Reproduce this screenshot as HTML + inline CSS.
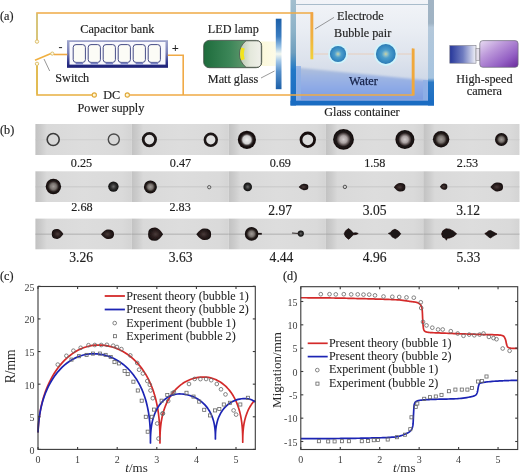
<!DOCTYPE html>
<html><head><meta charset="utf-8"><title>Bubble pair figure</title>
<style>html,body{margin:0;padding:0;background:#fff;width:520px;height:475px;overflow:hidden}svg{display:block}</style>
</head><body>
<svg width="520" height="475" viewBox="0 0 520 475">

<defs>
 <filter id="fB" x="-0.3" y="-0.3" width="1.6" height="1.6"><feGaussianBlur stdDeviation="0.45"/></filter>
 <filter id="fB2" x="-0.3" y="-0.3" width="1.6" height="1.6"><feGaussianBlur stdDeviation="0.35"/></filter>
 <filter id="fSoft" x="-0.05" y="-0.2" width="1.1" height="1.4"><feGaussianBlur stdDeviation="1.2"/></filter>
 <linearGradient id="gAir" x1="0" y1="0" x2="0" y2="1">
  <stop offset="0" stop-color="#f2f4f8"/><stop offset="0.3" stop-color="#e9edf3"/><stop offset="0.6" stop-color="#dce2ec"/><stop offset="0.8" stop-color="#cfd8e8"/><stop offset="1" stop-color="#c0cce4"/>
 </linearGradient>
 <linearGradient id="gWater" x1="0" y1="0" x2="0" y2="1">
  <stop offset="0" stop-color="#b0c0dc"/><stop offset="0.25" stop-color="#a0b6e2"/><stop offset="0.6" stop-color="#8eaae6"/><stop offset="1" stop-color="#7c9ce0"/>
 </linearGradient>
 <linearGradient id="gWallL" x1="0" y1="0" x2="0" y2="1">
  <stop offset="0" stop-color="#a2bece"/><stop offset="0.3" stop-color="#8cb2c8"/><stop offset="0.5" stop-color="#6e9ebe"/><stop offset="0.6" stop-color="#3c86c2"/><stop offset="0.66" stop-color="#2278c6"/><stop offset="1" stop-color="#1a6cc2"/>
 </linearGradient>
 <linearGradient id="gWallR" x1="0" y1="0" x2="0" y2="1">
  <stop offset="0" stop-color="#a2b4c4"/><stop offset="0.22" stop-color="#9fb3c4"/><stop offset="0.26" stop-color="#b4c8da"/><stop offset="0.74" stop-color="#a6c4e0"/><stop offset="0.78" stop-color="#2a78c4"/><stop offset="1" stop-color="#1a6cc2"/>
 </linearGradient>
 <linearGradient id="gMatt" x1="0" y1="0" x2="0" y2="1">
  <stop offset="0" stop-color="#1b5fa8"/><stop offset="0.25" stop-color="#3a7cc0"/><stop offset="0.4" stop-color="#98c2e6"/><stop offset="0.5" stop-color="#f4f8f0"/><stop offset="0.6" stop-color="#a4c8e8"/><stop offset="0.75" stop-color="#5690ca"/><stop offset="1" stop-color="#1b5fa8"/>
 </linearGradient>
 <linearGradient id="gCapB" x1="0" y1="0" x2="0" y2="1">
  <stop offset="0" stop-color="#a0a6cc"/><stop offset="0.45" stop-color="#7a80b8"/><stop offset="0.8" stop-color="#30368c"/><stop offset="1" stop-color="#1a1e74"/>
 </linearGradient>
 <linearGradient id="gElec" x1="0" y1="0" x2="0" y2="1">
  <stop offset="0" stop-color="#f0a444"/><stop offset="0.5" stop-color="#f0b040"/><stop offset="1" stop-color="#f2d238"/>
 </linearGradient>
 <linearGradient id="gLed" x1="0" y1="0" x2="1" y2="0">
  <stop offset="0" stop-color="#1e6c3c"/><stop offset="0.45" stop-color="#3c8658"/><stop offset="0.8" stop-color="#6c9c74"/><stop offset="1" stop-color="#90b090"/>
 </linearGradient>
 <linearGradient id="gCap" x1="0" y1="0" x2="1" y2="0">
  <stop offset="0" stop-color="#b8c8b0"/><stop offset="0.5" stop-color="#e4e8dc"/><stop offset="1" stop-color="#f0f0ea"/>
 </linearGradient>
 <linearGradient id="gBeam" x1="0" y1="0" x2="1" y2="0">
  <stop offset="0" stop-color="#fbf8d8"/><stop offset="1" stop-color="#fdfbe8"/>
 </linearGradient>
 <linearGradient id="gLens" x1="0" y1="0" x2="1" y2="0">
  <stop offset="0" stop-color="#26379a"/><stop offset="0.5" stop-color="#6f7cc0"/><stop offset="1" stop-color="#f2f2f8"/>
 </linearGradient>
 <linearGradient id="gBody" x1="0" y1="0" x2="1" y2="1">
  <stop offset="0" stop-color="#e8dcf2"/><stop offset="0.35" stop-color="#bc98da"/><stop offset="0.7" stop-color="#9460c4"/><stop offset="1" stop-color="#6a2a9c"/>
 </linearGradient>
 <radialGradient id="gBub" cx="0.5" cy="0.5" r="0.5">
  <stop offset="0" stop-color="#d2d296"/><stop offset="0.16" stop-color="#94c2c6"/><stop offset="0.42" stop-color="#4c9ecc"/><stop offset="0.82" stop-color="#3488c0"/><stop offset="1" stop-color="#2c7ab2"/>
 </radialGradient>
 <linearGradient id="gPhoto" x1="0" y1="0" x2="1" y2="0">
  <stop offset="0" stop-color="#c2c2c2"/><stop offset="0.06" stop-color="#cccccc"/><stop offset="0.12" stop-color="#d9d9d9"/><stop offset="0.5" stop-color="#dddddd"/><stop offset="0.9" stop-color="#dadada"/><stop offset="1" stop-color="#d4d4d4"/>
 </linearGradient>
 <radialGradient id="gSph" cx="0.5" cy="0.5" r="0.5">
  <stop offset="0" stop-color="#a09a96"/><stop offset="0.4" stop-color="#78726e"/><stop offset="0.7" stop-color="#241c1a"/><stop offset="1" stop-color="#100a0a"/>
 </radialGradient>
 <radialGradient id="gSphL" cx="0.5" cy="0.5" r="0.5">
  <stop offset="0" stop-color="#eeeeee"/><stop offset="0.45" stop-color="#d0d0d0"/><stop offset="0.62" stop-color="#403838"/><stop offset="0.75" stop-color="#1a1212"/><stop offset="1" stop-color="#140e0e"/>
 </radialGradient>
 <radialGradient id="gBlob" cx="0.5" cy="0.5" r="0.5">
  <stop offset="0" stop-color="#4a3c3a"/><stop offset="0.5" stop-color="#2c2020"/><stop offset="1" stop-color="#160e0e"/>
 </radialGradient>
 <radialGradient id="gSphM" cx="0.5" cy="0.5" r="0.5">
  <stop offset="0" stop-color="#d2cccc"/><stop offset="0.35" stop-color="#aaa2a2"/><stop offset="0.55" stop-color="#5a5050"/><stop offset="0.7" stop-color="#1e1616"/><stop offset="1" stop-color="#140e0e"/>
 </radialGradient>
 <radialGradient id="gSphD" cx="0.5" cy="0.5" r="0.5">
  <stop offset="0" stop-color="#6a6a6a"/><stop offset="0.5" stop-color="#303030"/><stop offset="1" stop-color="#0e0e0e"/>
 </radialGradient>
</defs>

<rect x="0" y="0" width="520" height="475" fill="#ffffff"/>
<rect x="296" y="0" width="132" height="101" fill="url(#gAir)"/>
<polygon points="296,67.4 428,80.4 428,101 296,101" fill="url(#gWater)" filter="url(#fSoft)"/>
<rect x="296" y="66" width="5" height="35" fill="#8fb0e6" opacity="0.8"/>
<rect x="423" y="80" width="5" height="21" fill="#8fb0e6" opacity="0.8"/>
<line x1="296" y1="4.5" x2="428" y2="4.5" stroke="#a9bccb" stroke-width="1"/>
<rect x="290.5" y="0" width="5.5" height="105.5" fill="url(#gWallL)"/>
<rect x="428" y="0" width="6" height="105.5" fill="url(#gWallR)"/>
<rect x="290.5" y="100.7" width="143.5" height="4.8" fill="#1a6cc2"/>
<rect x="258" y="41.5" width="18" height="24.5" fill="url(#gBeam)"/>
<rect x="203.7" y="40.4" width="58" height="27.3" rx="5.5" fill="url(#gLed)" stroke="#3c4a40" stroke-width="0.8"/>
<path d="M246,40.8 L256.5,40.8 Q261.3,40.8 261.3,45.5 L261.3,62.6 Q261.3,67.3 256.5,67.3 L246,67.3 Q239.5,62 239.5,54 Q239.5,46 246,40.8 Z" fill="url(#gCap)" stroke="#4a5048" stroke-width="0.8"/>
<path d="M241,47.6 Q239.2,54 241,60.2 L244.6,59.2 Q243,54 244.6,48.6 Z" fill="#f2e41c"/>
<rect x="275.8" y="18.7" width="5.7" height="70.5" fill="url(#gMatt)"/>
<line x1="261" y1="78" x2="274.5" y2="71" stroke="#707070" stroke-width="0.7"/>
<rect x="67" y="40.2" width="101" height="27.6" fill="url(#gCapB)"/>
<rect x="69.5" y="42" width="96" height="22.6" fill="#f8f8fd"/>
<rect x="73.2" y="44.6" width="12.2" height="17.8" rx="2.8" fill="#fcfcf6" stroke="#3c4280" stroke-width="0.95"/>
<rect x="75.6" y="62.6" width="7.5" height="1.8" fill="#7c84c8"/>
<rect x="88.2" y="44.6" width="12.2" height="17.8" rx="2.8" fill="#fcfcf6" stroke="#3c4280" stroke-width="0.95"/>
<rect x="90.6" y="62.6" width="7.5" height="1.8" fill="#7c84c8"/>
<rect x="103.2" y="44.6" width="12.2" height="17.8" rx="2.8" fill="#fcfcf6" stroke="#3c4280" stroke-width="0.95"/>
<rect x="105.6" y="62.6" width="7.5" height="1.8" fill="#7c84c8"/>
<rect x="118.2" y="44.6" width="12.2" height="17.8" rx="2.8" fill="#fcfcf6" stroke="#3c4280" stroke-width="0.95"/>
<rect x="120.6" y="62.6" width="7.5" height="1.8" fill="#7c84c8"/>
<rect x="133.2" y="44.6" width="12.2" height="17.8" rx="2.8" fill="#fcfcf6" stroke="#3c4280" stroke-width="0.95"/>
<rect x="135.6" y="62.6" width="7.5" height="1.8" fill="#7c84c8"/>
<rect x="148.2" y="44.6" width="12.2" height="17.8" rx="2.8" fill="#fcfcf6" stroke="#3c4280" stroke-width="0.95"/>
<rect x="150.6" y="62.6" width="7.5" height="1.8" fill="#7c84c8"/>
<polyline points="37,40 37,13 313,13" stroke="#f0aa46" stroke-width="1.6" fill="none"/>
<line x1="37" y1="13.5" x2="37" y2="39.3" stroke="#d6c67c" stroke-width="1.9"/>
<polyline points="37,65.5 37,95 92.6,95" stroke="#e8b040" stroke-width="1.6" fill="none"/>
<line x1="37" y1="66" x2="37" y2="94" stroke="#e0bc50" stroke-width="1.6"/>
<polyline points="129.4,95 412.5,95 412.5,48.5" stroke="#f0aa46" stroke-width="1.6" fill="none"/>
<polyline points="167.8,55.2 183.2,55.2 183.2,95" stroke="#f0aa46" stroke-width="1.6" fill="none"/>
<line x1="54" y1="54.5" x2="67.3" y2="54.5" stroke="#f0aa46" stroke-width="1.6" fill="none"/>
<line x1="35" y1="60.3" x2="51" y2="53.6" stroke="#f0b040" stroke-width="1.6"/>
<circle cx="37" cy="41.6" r="1.7" fill="#fffbe8" stroke="#d8b860" stroke-width="0.9"/>
<circle cx="37" cy="63.8" r="1.7" fill="#fffbe8" stroke="#d8b860" stroke-width="0.9"/>
<circle cx="52.3" cy="53.6" r="1.6" fill="#fffbe8" stroke="#d8b860" stroke-width="0.9"/>
<circle cx="94.3" cy="95" r="2.1" fill="#fff8d8" stroke="#e0a838" stroke-width="1.1"/>
<circle cx="127.3" cy="95" r="2.1" fill="#fff8d8" stroke="#e0a838" stroke-width="1.1"/>
<line x1="44" y1="59" x2="49.7" y2="71" stroke="#6a6a6a" stroke-width="0.7"/>
<rect x="310.4" y="12.3" width="2.9" height="47" fill="url(#gElec)"/>
<line x1="413.3" y1="48.6" x2="413.3" y2="95.5" stroke="#f0a83c" stroke-width="2.6"/>
<line x1="313.5" y1="54" x2="412" y2="54" stroke="#e8c8b0" stroke-width="0.8"/>
<line x1="315" y1="29" x2="334" y2="17.4" stroke="#707070" stroke-width="0.7"/>
<circle cx="338" cy="54" r="8.7" fill="none" stroke="#d0f4fc" stroke-width="2.3"/>
<circle cx="338" cy="54" r="8.1" fill="url(#gBub)"/>
<circle cx="385.8" cy="54" r="10.5" fill="none" stroke="#d0f4fc" stroke-width="2.3"/>
<circle cx="385.8" cy="54" r="9.9" fill="url(#gBub)"/>
<rect x="449.8" y="45.6" width="26.2" height="17.6" fill="url(#gLens)" stroke="#7a7a88" stroke-width="0.6"/>
<rect x="476" y="48.5" width="3.8" height="12" fill="#e6e0ec" stroke="#8a8a90" stroke-width="0.6"/>
<rect x="479.8" y="40.6" width="38.3" height="26.7" rx="3" fill="url(#gBody)" stroke="#6e6e78" stroke-width="0.7"/>
<text x="0" y="19.6" fill="#1e1e1e" stroke="#1e1e1e" stroke-width="0.16" font-size="12.2" font-family="Liberation Serif, serif">(a)</text>
<text x="80.3" y="33.4" fill="#1e1e1e" stroke="#1e1e1e" stroke-width="0.16" font-size="12.2" font-family="Liberation Serif, serif">Capacitor bank</text>
<text x="55.3" y="82.3" fill="#1e1e1e" stroke="#1e1e1e" stroke-width="0.16" font-size="12.2" font-family="Liberation Serif, serif">Switch</text>
<text x="103.3" y="99" fill="#1e1e1e" stroke="#1e1e1e" stroke-width="0.16" font-size="12.2" font-family="Liberation Serif, serif">DC</text>
<text x="77.6" y="111.6" fill="#1e1e1e" stroke="#1e1e1e" stroke-width="0.16" font-size="12.2" font-family="Liberation Serif, serif">Power supply</text>
<text x="207.8" y="33" fill="#1e1e1e" stroke="#1e1e1e" stroke-width="0.16" font-size="12.2" font-family="Liberation Serif, serif">LED lamp</text>
<text x="207.8" y="83" fill="#1e1e1e" stroke="#1e1e1e" stroke-width="0.16" font-size="12.2" font-family="Liberation Serif, serif">Matt glass</text>
<text x="337" y="20.2" fill="#1e1e1e" stroke="#1e1e1e" stroke-width="0.16" font-size="12.2" font-family="Liberation Serif, serif">Electrode</text>
<text x="334" y="36.8" fill="#1e1e1e" stroke="#1e1e1e" stroke-width="0.16" font-size="12.2" font-family="Liberation Serif, serif">Bubble pair</text>
<text x="349" y="85.2" fill="#16224a" stroke="#16224a" stroke-width="0.25" font-size="12.2" font-family="Liberation Serif, serif">Water</text>
<text x="324.2" y="116.2" fill="#1e1e1e" stroke="#1e1e1e" stroke-width="0.16" font-size="12.2" font-family="Liberation Serif, serif">Glass container</text>
<text x="456.3" y="82.5" fill="#1e1e1e" stroke="#1e1e1e" stroke-width="0.16" font-size="12.2" font-family="Liberation Serif, serif">High-speed</text>
<text x="466.8" y="94.8" fill="#1e1e1e" stroke="#1e1e1e" stroke-width="0.16" font-size="12.2" font-family="Liberation Serif, serif">camera</text>
<text x="58.6" y="50.5" font-size="12" font-weight="bold" fill="#333" font-family="Liberation Serif, serif">-</text>
<text x="171.8" y="52" font-size="12.5" font-weight="bold" fill="#222" font-family="Liberation Serif, serif">+</text>
<text x="0" y="134.4" fill="#1e1e1e" stroke="#1e1e1e" stroke-width="0.16" font-size="12.2" font-family="Liberation Serif, serif">(b)</text>
<rect x="35.4" y="124" width="96.2" height="31" fill="url(#gPhoto)"/>
<line x1="35.4" y1="139.7" x2="131.6" y2="139.7" stroke="#c8c8c8" stroke-width="0.6"/>
<rect x="131.6" y="124" width="97.1" height="31" fill="url(#gPhoto)"/>
<line x1="131.6" y1="139.7" x2="228.7" y2="139.7" stroke="#c8c8c8" stroke-width="0.6"/>
<rect x="228.7" y="124" width="97.2" height="31" fill="url(#gPhoto)"/>
<line x1="228.7" y1="139.7" x2="325.9" y2="139.7" stroke="#c8c8c8" stroke-width="0.6"/>
<rect x="325.9" y="124" width="97.4" height="31" fill="url(#gPhoto)"/>
<line x1="325.9" y1="139.7" x2="423.3" y2="139.7" stroke="#c8c8c8" stroke-width="0.6"/>
<rect x="423.3" y="124" width="96.2" height="31" fill="url(#gPhoto)"/>
<line x1="423.3" y1="139.7" x2="519.5" y2="139.7" stroke="#c8c8c8" stroke-width="0.6"/>
<rect x="35.4" y="171.3" width="96.2" height="30.7" fill="url(#gPhoto)"/>
<line x1="35.4" y1="186.85" x2="131.6" y2="186.85" stroke="#bababa" stroke-width="0.6"/>
<rect x="131.6" y="171.3" width="97.1" height="30.7" fill="url(#gPhoto)"/>
<line x1="131.6" y1="186.85" x2="228.7" y2="186.85" stroke="#bababa" stroke-width="0.6"/>
<rect x="228.7" y="171.3" width="97.2" height="30.7" fill="url(#gPhoto)"/>
<line x1="228.7" y1="186.85" x2="325.9" y2="186.85" stroke="#bababa" stroke-width="0.6"/>
<rect x="325.9" y="171.3" width="97.4" height="30.7" fill="url(#gPhoto)"/>
<line x1="325.9" y1="186.85" x2="423.3" y2="186.85" stroke="#bababa" stroke-width="0.6"/>
<rect x="423.3" y="171.3" width="96.2" height="30.7" fill="url(#gPhoto)"/>
<line x1="423.3" y1="186.85" x2="519.5" y2="186.85" stroke="#bababa" stroke-width="0.6"/>
<rect x="35.4" y="218.6" width="96.2" height="30.7" fill="url(#gPhoto)"/>
<line x1="35.4" y1="234.15" x2="131.6" y2="234.15" stroke="#a2a2a2" stroke-width="0.75"/>
<rect x="131.6" y="218.6" width="97.1" height="30.7" fill="url(#gPhoto)"/>
<line x1="131.6" y1="234.15" x2="228.7" y2="234.15" stroke="#a2a2a2" stroke-width="0.75"/>
<rect x="228.7" y="218.6" width="97.2" height="30.7" fill="url(#gPhoto)"/>
<line x1="228.7" y1="234.15" x2="325.9" y2="234.15" stroke="#a2a2a2" stroke-width="0.75"/>
<rect x="325.9" y="218.6" width="97.4" height="30.7" fill="url(#gPhoto)"/>
<line x1="325.9" y1="234.15" x2="423.3" y2="234.15" stroke="#a2a2a2" stroke-width="0.75"/>
<rect x="423.3" y="218.6" width="96.2" height="30.7" fill="url(#gPhoto)"/>
<line x1="423.3" y1="234.15" x2="519.5" y2="234.15" stroke="#a2a2a2" stroke-width="0.75"/>
<circle cx="53.2" cy="139.5" r="6" fill="#d8d8d8" stroke="#3a3a3a" stroke-width="1.6" filter="url(#fB2)"/>
<circle cx="113.8" cy="139.5" r="5.5" fill="#d8d8d8" stroke="#4a4a4a" stroke-width="1.4" filter="url(#fB2)"/>
<circle cx="149.4" cy="139.6" r="6.2" fill="#e0e0e0" stroke="#1c1616" stroke-width="2.8" filter="url(#fB2)"/>
<circle cx="210.8" cy="139.8" r="5.9" fill="#e0e0e0" stroke="#1c1616" stroke-width="2.6" filter="url(#fB2)"/>
<circle cx="246.9" cy="139.8" r="9.1" fill="url(#gSphL)" filter="url(#fB2)"/>
<circle cx="307.8" cy="139.8" r="6.8" fill="#dadada" stroke="#161010" stroke-width="2.8" filter="url(#fB2)"/>
<circle cx="343.5" cy="139.4" r="10.4" fill="url(#gSphM)" filter="url(#fB2)"/>
<circle cx="404.9" cy="139.5" r="9.5" fill="url(#gSphM)" filter="url(#fB2)"/>
<circle cx="441.1" cy="139.3" r="8.2" fill="url(#gSph)" filter="url(#fB2)"/>
<circle cx="501.4" cy="139.5" r="6.4" fill="url(#gSph)" filter="url(#fB2)"/>
<circle cx="53.4" cy="186.5" r="7.7" fill="url(#gSph)" filter="url(#fB2)"/>
<circle cx="113.4" cy="186.6" r="5.2" fill="url(#gSphD)" filter="url(#fB2)"/>
<circle cx="150.4" cy="186.9" r="6.5" fill="url(#gSph)" filter="url(#fB2)"/>
<circle cx="209.2" cy="187.2" r="1.65" fill="#d0d0d0" stroke="#505050" stroke-width="0.9" filter="url(#fB2)"/>
<circle cx="247.7" cy="186.9" r="4.3" fill="url(#gSphD)" filter="url(#fB2)"/>
<path d="M298.7,187 Q301.58,183.64 303.98,183.8 Q308.54,183.8 308.3,187 Q308.54,190.2 303.98,190.2 Q301.58,190.36 298.7,187 Z" fill="url(#gBlob)" filter="url(#fB)"/>
<circle cx="344.9" cy="186.9" r="1.7" fill="#d0d0d0" stroke="#505050" stroke-width="1" filter="url(#fB2)"/>
<path d="M393.85,187.2 Q397.3,182.79 400.18,183 Q405.64,183 405.35,187.2 Q405.64,191.4 400.18,191.4 Q397.3,191.61 393.85,187.2 Z" fill="url(#gBlob)" filter="url(#fB)"/>
<path d="M439.9,186.7 Q442.12,183.44 443.97,183.6 Q447.49,183.6 447.3,186.7 Q447.49,189.8 443.97,189.8 Q442.12,189.95 439.9,186.7 Z" fill="url(#gBlob)" filter="url(#fB)"/>
<path d="M490.4,187 Q494.18,182.38 497.33,182.6 Q503.31,182.6 503,187 Q503.31,191.4 497.33,191.4 Q494.18,191.62 490.4,187 Z" fill="url(#gBlob)" filter="url(#fB)"/>
<path d="M63.4,234 Q59.92,228.85 57.02,229.1 Q51.51,229.1 51.8,234 Q51.51,238.9 57.02,238.9 Q59.92,239.15 63.4,234 Z" fill="url(#gBlob)" filter="url(#fB)"/>
<path d="M101,234.2 Q104.9,229.16 108.15,229.4 Q114.33,229.4 114,234.2 Q114.33,239 108.15,239 Q104.9,239.24 101,234.2 Z" fill="url(#gBlob)" filter="url(#fB)"/>
<path d="M163.1,234.2 Q158.6,227.27 154.85,227.6 Q147.72,227.6 148.1,234.2 Q147.72,240.8 154.85,240.8 Q158.6,241.13 163.1,234.2 Z" fill="url(#gBlob)" filter="url(#fB)"/>
<path d="M196.3,234.2 Q200.74,228.11 204.44,228.4 Q211.47,228.4 211.1,234.2 Q211.47,240 204.44,240 Q200.74,240.29 196.3,234.2 Z" fill="url(#gBlob)" filter="url(#fB)"/>
<line x1="256" y1="233.8" x2="261.8" y2="233.8" stroke="#201818" stroke-width="1.8"/>
<circle cx="251.6" cy="233.9" r="6.8" fill="url(#gSph)"/>
<circle cx="300.8" cy="233.6" r="3.1" fill="url(#gSphD)" filter="url(#fB2)"/>
<line x1="292" y1="233" x2="299" y2="233.5" stroke="#302828" stroke-width="1.2"/>
<path d="M344.2,233.8 L345.6,230.8 L348.5,228.6 L351.4,230.8 L353,233.1 L356,232.8 L358.2,233.5 L356,234.5 L353,234.8 L351.4,236.8 L348.6,239.3 L345.6,236.8 Z" fill="#1c1212" stroke="#1c1212" stroke-width="0.8" stroke-linejoin="round" filter="url(#fB)"/>
<path d="M388.4,233.4 L390.5,232.6 L392,230.6 L395,229.2 L398.4,231 L400.7,233.8 L398.4,236.6 L395.4,238.6 L392,236.8 L390.5,234.6 Z" fill="#1c1212" stroke="#1c1212" stroke-width="0.8" stroke-linejoin="round" filter="url(#fB)"/>
<path d="M441.6,234 L442.8,230.8 L446,228.8 L449.6,229.2 L453.2,231 L456.6,233.8 L453.6,236.4 L449.6,238 L447.2,238.2 L446.4,240.2 L445.2,238.2 L442.8,237.2 Z" fill="#1c1212" stroke="#1c1212" stroke-width="0.8" stroke-linejoin="round" filter="url(#fB)"/>
<path d="M484.8,233.6 L486.8,232.4 L488.4,231 L490.6,230.5 L492.6,231.6 L494.4,232.6 L497,234 L494.4,235.4 L492.6,236.6 L490.4,237.9 L488.4,236.8 L486.8,235.2 Z" fill="#1c1212" stroke="#1c1212" stroke-width="0.8" stroke-linejoin="round" filter="url(#fB)"/>
<text x="81.5" y="167.1" text-anchor="middle" fill="#1e1e1e" stroke="#1e1e1e" stroke-width="0.16" font-size="12.2" font-family="Liberation Serif, serif">0.25</text>
<text x="180.5" y="167.1" text-anchor="middle" fill="#1e1e1e" stroke="#1e1e1e" stroke-width="0.16" font-size="12.2" font-family="Liberation Serif, serif">0.47</text>
<text x="280.3" y="167.1" text-anchor="middle" fill="#1e1e1e" stroke="#1e1e1e" stroke-width="0.16" font-size="12.2" font-family="Liberation Serif, serif">0.69</text>
<text x="374.8" y="167.1" text-anchor="middle" fill="#1e1e1e" stroke="#1e1e1e" stroke-width="0.16" font-size="12.2" font-family="Liberation Serif, serif">1.58</text>
<text x="467.5" y="167.1" text-anchor="middle" fill="#1e1e1e" stroke="#1e1e1e" stroke-width="0.16" font-size="12.2" font-family="Liberation Serif, serif">2.53</text>
<text x="81.9" y="211.2" text-anchor="middle" fill="#1e1e1e" stroke="#1e1e1e" stroke-width="0.16" font-size="12.2" font-family="Liberation Serif, serif">2.68</text>
<text x="180.1" y="211.2" text-anchor="middle" fill="#1e1e1e" stroke="#1e1e1e" stroke-width="0.16" font-size="12.2" font-family="Liberation Serif, serif">2.83</text>
<text x="280.2" y="214.7" text-anchor="middle" fill="#1e1e1e" stroke="#1e1e1e" stroke-width="0.16" font-size="13.6" font-family="Liberation Serif, serif">2.97</text>
<text x="374.6" y="214.7" text-anchor="middle" fill="#1e1e1e" stroke="#1e1e1e" stroke-width="0.16" font-size="13.6" font-family="Liberation Serif, serif">3.05</text>
<text x="468.1" y="214.7" text-anchor="middle" fill="#1e1e1e" stroke="#1e1e1e" stroke-width="0.16" font-size="13.6" font-family="Liberation Serif, serif">3.12</text>
<text x="81.1" y="261.5" text-anchor="middle" fill="#1e1e1e" stroke="#1e1e1e" stroke-width="0.16" font-size="13.6" font-family="Liberation Serif, serif">3.26</text>
<text x="180.6" y="261.5" text-anchor="middle" fill="#1e1e1e" stroke="#1e1e1e" stroke-width="0.16" font-size="13.6" font-family="Liberation Serif, serif">3.63</text>
<text x="281.5" y="261.5" text-anchor="middle" fill="#1e1e1e" stroke="#1e1e1e" stroke-width="0.16" font-size="13.6" font-family="Liberation Serif, serif">4.44</text>
<text x="374.6" y="261.5" text-anchor="middle" fill="#1e1e1e" stroke="#1e1e1e" stroke-width="0.16" font-size="13.6" font-family="Liberation Serif, serif">4.96</text>
<text x="468.4" y="261.5" text-anchor="middle" fill="#1e1e1e" stroke="#1e1e1e" stroke-width="0.16" font-size="13.6" font-family="Liberation Serif, serif">5.33</text>
<rect x="38" y="286.5" width="217.3" height="162.9" fill="#fff"/>
<polyline points="38,432.57 38.11,430.01 38.26,427.33 38.47,424.57 38.73,421.72 39.06,418.82 39.46,415.87 39.93,412.87 40.47,409.85 41.09,406.79 41.8,403.72 42.59,400.63 43.47,397.54 44.45,394.46 45.52,391.38 46.69,388.32 47.96,385.29 49.33,382.29 50.82,379.33 52.41,376.41 54.11,373.55 55.93,370.76 57.87,368.04 59.93,365.41 62.1,362.87 64.41,360.44 66.84,358.13 69.4,355.95 72.09,353.91 74.91,352.03 77.87,350.33 80.97,348.83 84.2,347.53 87.58,346.48 91.1,345.69 94.77,345.19 98.59,345.02 98.59,345.02 102.45,345.17 106.16,345.61 109.72,346.32 113.14,347.25 116.41,348.4 119.54,349.75 122.54,351.27 125.39,352.96 128.11,354.79 130.7,356.77 133.16,358.87 135.49,361.09 137.69,363.42 139.77,365.84 141.73,368.36 143.57,370.97 145.3,373.65 146.91,376.4 148.41,379.23 149.8,382.11 151.09,385.04 152.27,388.03 153.35,391.06 154.34,394.14 155.23,397.25 156.03,400.39 156.74,403.57 157.37,406.77 157.92,409.99 158.4,413.23 158.8,416.49 159.13,419.76 159.4,423.05 159.61,426.34 159.76,429.64 159.87,432.95 159.93,436.25 159.96,439.57 159.97,442.88 159.97,442.88 159.97,440.65 159.99,438.42 160.04,436.19 160.11,433.96 160.22,431.74 160.37,429.52 160.56,427.31 160.8,425.11 161.08,422.91 161.42,420.73 161.81,418.56 162.26,416.41 162.76,414.27 163.33,412.15 163.96,410.06 164.66,407.99 165.43,405.95 166.27,403.93 167.18,401.96 168.17,400.02 169.24,398.12 170.38,396.26 171.6,394.46 172.91,392.7 174.3,391.01 175.78,389.37 177.34,387.81 178.99,386.31 180.74,384.9 182.57,383.57 184.51,382.33 186.53,381.2 188.66,380.17 190.88,379.26 193.2,378.49 195.63,377.86 198.16,377.39 200.79,377.09 203.53,376.98 203.53,376.98 205.99,377.09 208.36,377.38 210.64,377.85 212.82,378.48 214.91,379.24 216.91,380.14 218.82,381.15 220.65,382.28 222.39,383.5 224.04,384.82 225.61,386.22 227.1,387.7 228.51,389.25 229.83,390.87 231.09,392.55 232.26,394.28 233.36,396.07 234.39,397.91 235.35,399.79 236.24,401.71 237.06,403.67 237.81,405.66 238.51,407.68 239.14,409.73 239.71,411.8 240.22,413.9 240.67,416.02 241.08,418.15 241.43,420.3 241.73,422.46 241.98,424.63 242.2,426.81 242.37,429 242.5,431.2 242.6,433.4 242.67,435.6 242.71,437.81 242.73,440.02 242.73,442.22 242.73,442.22 242.74,440.48 242.75,438.74 242.79,436.99 242.84,435.25 242.93,433.52 243.04,431.78 243.18,430.05 243.36,428.33 243.57,426.61 243.83,424.9 244.12,423.21 244.46,421.52 244.84,419.85 245.27,418.19 245.75,416.55 246.28,414.93 246.86,413.34 247.49,411.76 248.18,410.22 248.92,408.7 249.72,407.22 250.59,405.76 251.51,404.35 252.5,402.98 253.55,401.65 254.66,400.37" stroke="#d42a2a" stroke-width="1.7" fill="none" stroke-linejoin="round"/>
<polyline points="38.04,432.47 38.14,429.99 38.28,427.43 38.47,424.82 38.71,422.16 39.01,419.46 39.37,416.73 39.8,413.98 40.3,411.2 40.87,408.42 41.51,405.64 42.24,402.85 43.04,400.07 43.93,397.3 44.91,394.54 45.98,391.81 47.14,389.11 48.4,386.44 49.76,383.82 51.21,381.24 52.77,378.72 54.44,376.26 56.21,373.87 58.09,371.56 60.08,369.33 62.19,367.2 64.41,365.18 66.75,363.27 69.21,361.5 71.79,359.86 74.5,358.38 77.33,357.07 80.29,355.95 83.38,355.03 86.6,354.34 89.95,353.91 93.44,353.76 93.44,353.76 97.03,353.9 100.47,354.3 103.78,354.94 106.96,355.8 110,356.84 112.91,358.07 115.69,359.45 118.34,360.99 120.87,362.66 123.28,364.46 125.56,366.37 127.72,368.4 129.77,370.51 131.7,372.73 133.52,375.02 135.23,377.39 136.84,379.83 138.33,382.34 139.72,384.91 141.02,387.54 142.21,390.21 143.31,392.93 144.32,395.69 145.23,398.49 146.06,401.32 146.81,404.19 147.47,407.08 148.05,409.99 148.57,412.93 149.01,415.88 149.38,418.85 149.69,421.83 149.93,424.82 150.13,427.82 150.27,430.82 150.37,433.83 150.43,436.85 150.46,439.86 150.46,442.88 150.46,442.88 150.47,441.22 150.48,439.57 150.51,437.91 150.56,436.26 150.63,434.61 150.73,432.96 150.86,431.32 151.01,429.68 151.2,428.05 151.43,426.43 151.69,424.82 151.98,423.22 152.32,421.63 152.7,420.06 153.12,418.51 153.58,416.97 154.09,415.45 154.65,413.96 155.25,412.49 155.91,411.05 156.61,409.64 157.37,408.26 158.19,406.92 159.05,405.62 159.97,404.36 160.95,403.15 161.99,401.98 163.09,400.87 164.25,399.82 165.47,398.83 166.75,397.92 168.09,397.07 169.5,396.31 170.98,395.64 172.52,395.06 174.13,394.6 175.81,394.24 177.55,394.02 179.37,393.95 179.37,393.95 181.64,394.02 183.82,394.22 185.91,394.54 187.91,394.98 189.84,395.5 191.67,396.12 193.43,396.82 195.11,397.6 196.71,398.44 198.23,399.35 199.67,400.32 201.04,401.34 202.33,402.41 203.55,403.53 204.7,404.69 205.78,405.88 206.8,407.12 207.74,408.38 208.62,409.68 209.44,411.01 210.19,412.36 210.89,413.73 211.52,415.13 212.1,416.54 212.63,417.97 213.1,419.42 213.52,420.88 213.89,422.35 214.21,423.83 214.49,425.32 214.72,426.82 214.92,428.33 215.07,429.84 215.2,431.36 215.29,432.87 215.35,434.39 215.39,435.92 215.4,437.44 215.41,438.96 215.41,438.96 215.41,437.59 215.43,436.22 215.46,434.86 215.51,433.49 215.58,432.13 215.68,430.77 215.81,429.41 215.97,428.06 216.17,426.71 216.4,425.37 216.66,424.04 216.97,422.71 217.31,421.4 217.7,420.1 218.13,418.82 218.61,417.55 219.13,416.29 219.71,415.06 220.33,413.84 221,412.65 221.73,411.49 222.51,410.35 223.34,409.24 224.23,408.16 225.18,407.12 226.19,406.12 227.25,405.16 228.38,404.24 229.57,403.37 230.82,402.55 232.14,401.8 233.52,401.1 234.97,400.47 236.48,399.91 238.07,399.44 239.72,399.05 241.45,398.76 243.24,398.58 245.11,398.51 245.11,398.51 246.6,398.58 248.04,398.78 249.42,399.1 250.74,399.53 252.01,400.05 253.22,400.66 254.38,401.35 255.48,402.11" stroke="#1c24b4" stroke-width="1.7" fill="none" stroke-linejoin="round"/>
<circle cx="57.8" cy="364.6" r="1.85" stroke="#666666" stroke-width="0.8" fill="none"/>
<circle cx="66.4" cy="355.8" r="1.85" stroke="#666666" stroke-width="0.8" fill="none"/>
<circle cx="73.4" cy="350.7" r="1.85" stroke="#666666" stroke-width="0.8" fill="none"/>
<circle cx="80.7" cy="347.8" r="1.85" stroke="#666666" stroke-width="0.8" fill="none"/>
<circle cx="88.5" cy="345.2" r="1.85" stroke="#666666" stroke-width="0.8" fill="none"/>
<circle cx="94.8" cy="345" r="1.85" stroke="#666666" stroke-width="0.8" fill="none"/>
<circle cx="101.2" cy="345" r="1.85" stroke="#666666" stroke-width="0.8" fill="none"/>
<circle cx="106.9" cy="344.8" r="1.85" stroke="#666666" stroke-width="0.8" fill="none"/>
<circle cx="113.2" cy="345.7" r="1.85" stroke="#666666" stroke-width="0.8" fill="none"/>
<circle cx="117" cy="347" r="1.85" stroke="#666666" stroke-width="0.8" fill="none"/>
<circle cx="121.4" cy="349.1" r="1.85" stroke="#666666" stroke-width="0.8" fill="none"/>
<circle cx="130.3" cy="355.4" r="1.85" stroke="#666666" stroke-width="0.8" fill="none"/>
<circle cx="137.2" cy="363" r="1.85" stroke="#666666" stroke-width="0.8" fill="none"/>
<circle cx="139.1" cy="369.7" r="1.85" stroke="#666666" stroke-width="0.8" fill="none"/>
<circle cx="142.9" cy="373.5" r="1.85" stroke="#666666" stroke-width="0.8" fill="none"/>
<circle cx="147.3" cy="381" r="1.85" stroke="#666666" stroke-width="0.8" fill="none"/>
<circle cx="149.8" cy="384.8" r="1.85" stroke="#666666" stroke-width="0.8" fill="none"/>
<circle cx="150.5" cy="390.5" r="1.85" stroke="#666666" stroke-width="0.8" fill="none"/>
<circle cx="152.8" cy="398.2" r="1.85" stroke="#666666" stroke-width="0.8" fill="none"/>
<circle cx="157.2" cy="423.5" r="1.85" stroke="#666666" stroke-width="0.8" fill="none"/>
<circle cx="158.5" cy="438.6" r="1.85" stroke="#666666" stroke-width="0.8" fill="none"/>
<circle cx="162.9" cy="413.4" r="1.85" stroke="#666666" stroke-width="0.8" fill="none"/>
<circle cx="162.5" cy="413.6" r="1.85" stroke="#666666" stroke-width="0.8" fill="none"/>
<circle cx="168.2" cy="401" r="1.85" stroke="#666666" stroke-width="0.8" fill="none"/>
<circle cx="173.9" cy="392.2" r="1.85" stroke="#666666" stroke-width="0.8" fill="none"/>
<circle cx="189" cy="384" r="1.85" stroke="#666666" stroke-width="0.8" fill="none"/>
<circle cx="194.7" cy="378.9" r="1.85" stroke="#666666" stroke-width="0.8" fill="none"/>
<circle cx="200.4" cy="379.1" r="1.85" stroke="#666666" stroke-width="0.8" fill="none"/>
<circle cx="206.1" cy="379" r="1.85" stroke="#666666" stroke-width="0.8" fill="none"/>
<circle cx="211.2" cy="380.2" r="1.85" stroke="#666666" stroke-width="0.8" fill="none"/>
<circle cx="216.8" cy="384" r="1.85" stroke="#666666" stroke-width="0.8" fill="none"/>
<circle cx="221" cy="389.3" r="1.85" stroke="#666666" stroke-width="0.8" fill="none"/>
<circle cx="225.5" cy="394.4" r="1.85" stroke="#666666" stroke-width="0.8" fill="none"/>
<circle cx="233.6" cy="410.4" r="1.85" stroke="#666666" stroke-width="0.8" fill="none"/>
<circle cx="236.1" cy="414.6" r="1.85" stroke="#666666" stroke-width="0.8" fill="none"/>
<rect x="69.95" y="358.05" width="3.1" height="3.1" stroke="#666666" stroke-width="0.8" fill="none"/>
<rect x="77.45" y="354.65" width="3.1" height="3.1" stroke="#666666" stroke-width="0.8" fill="none"/>
<rect x="85.05" y="353.35" width="3.1" height="3.1" stroke="#666666" stroke-width="0.8" fill="none"/>
<rect x="91.45" y="352.05" width="3.1" height="3.1" stroke="#666666" stroke-width="0.8" fill="none"/>
<rect x="98.35" y="352.05" width="3.1" height="3.1" stroke="#666666" stroke-width="0.8" fill="none"/>
<rect x="104.05" y="353.35" width="3.1" height="3.1" stroke="#666666" stroke-width="0.8" fill="none"/>
<rect x="109.15" y="355.45" width="3.1" height="3.1" stroke="#666666" stroke-width="0.8" fill="none"/>
<rect x="112.95" y="360.55" width="3.1" height="3.1" stroke="#666666" stroke-width="0.8" fill="none"/>
<rect x="117.35" y="361.85" width="3.1" height="3.1" stroke="#666666" stroke-width="0.8" fill="none"/>
<rect x="123.05" y="369.45" width="3.1" height="3.1" stroke="#666666" stroke-width="0.8" fill="none"/>
<rect x="126.15" y="372.55" width="3.1" height="3.1" stroke="#666666" stroke-width="0.8" fill="none"/>
<rect x="131.85" y="380.15" width="3.1" height="3.1" stroke="#666666" stroke-width="0.8" fill="none"/>
<rect x="136.25" y="388.95" width="3.1" height="3.1" stroke="#666666" stroke-width="0.8" fill="none"/>
<rect x="140.15" y="399.15" width="3.1" height="3.1" stroke="#666666" stroke-width="0.8" fill="none"/>
<rect x="144.25" y="415.25" width="3.1" height="3.1" stroke="#666666" stroke-width="0.8" fill="none"/>
<rect x="150.25" y="415.25" width="3.1" height="3.1" stroke="#666666" stroke-width="0.8" fill="none"/>
<rect x="146.15" y="430.15" width="3.1" height="3.1" stroke="#666666" stroke-width="0.8" fill="none"/>
<rect x="152.45" y="408.05" width="3.1" height="3.1" stroke="#666666" stroke-width="0.8" fill="none"/>
<rect x="160.05" y="399.15" width="3.1" height="3.1" stroke="#666666" stroke-width="0.8" fill="none"/>
<rect x="165.75" y="393.45" width="3.1" height="3.1" stroke="#666666" stroke-width="0.8" fill="none"/>
<rect x="171.05" y="391.85" width="3.1" height="3.1" stroke="#666666" stroke-width="0.8" fill="none"/>
<rect x="184.95" y="391.25" width="3.1" height="3.1" stroke="#666666" stroke-width="0.8" fill="none"/>
<rect x="191.95" y="395.05" width="3.1" height="3.1" stroke="#666666" stroke-width="0.8" fill="none"/>
<rect x="197.65" y="400.05" width="3.1" height="3.1" stroke="#666666" stroke-width="0.8" fill="none"/>
<rect x="202.65" y="408.25" width="3.1" height="3.1" stroke="#666666" stroke-width="0.8" fill="none"/>
<rect x="208.45" y="413.85" width="3.1" height="3.1" stroke="#666666" stroke-width="0.8" fill="none"/>
<rect x="213.55" y="408.85" width="3.1" height="3.1" stroke="#666666" stroke-width="0.8" fill="none"/>
<rect x="217.75" y="407.45" width="3.1" height="3.1" stroke="#666666" stroke-width="0.8" fill="none"/>
<rect x="222.25" y="402.95" width="3.1" height="3.1" stroke="#666666" stroke-width="0.8" fill="none"/>
<rect x="228.35" y="401.25" width="3.1" height="3.1" stroke="#666666" stroke-width="0.8" fill="none"/>
<rect x="238.75" y="402.95" width="3.1" height="3.1" stroke="#666666" stroke-width="0.8" fill="none"/>
<rect x="246.35" y="396.25" width="3.1" height="3.1" stroke="#666666" stroke-width="0.8" fill="none"/>
<rect x="38" y="286.5" width="217.3" height="162.9" stroke="#3a3a3a" stroke-width="1.1" fill="none"/>
<line x1="38" y1="449.4" x2="38" y2="446.9" stroke="#3a3a3a" stroke-width="1.1" fill="none"/>
<line x1="38" y1="286.5" x2="38" y2="289" stroke="#3a3a3a" stroke-width="1.1" fill="none"/>
<text x="38" y="462.8" text-anchor="middle" fill="#404040" font-size="10" font-family="Liberation Serif, serif">0</text>
<line x1="77.6" y1="449.4" x2="77.6" y2="446.9" stroke="#3a3a3a" stroke-width="1.1" fill="none"/>
<line x1="77.6" y1="286.5" x2="77.6" y2="289" stroke="#3a3a3a" stroke-width="1.1" fill="none"/>
<text x="77.6" y="462.8" text-anchor="middle" fill="#404040" font-size="10" font-family="Liberation Serif, serif">1</text>
<line x1="117.2" y1="449.4" x2="117.2" y2="446.9" stroke="#3a3a3a" stroke-width="1.1" fill="none"/>
<line x1="117.2" y1="286.5" x2="117.2" y2="289" stroke="#3a3a3a" stroke-width="1.1" fill="none"/>
<text x="117.2" y="462.8" text-anchor="middle" fill="#404040" font-size="10" font-family="Liberation Serif, serif">2</text>
<line x1="156.8" y1="449.4" x2="156.8" y2="446.9" stroke="#3a3a3a" stroke-width="1.1" fill="none"/>
<line x1="156.8" y1="286.5" x2="156.8" y2="289" stroke="#3a3a3a" stroke-width="1.1" fill="none"/>
<text x="156.8" y="462.8" text-anchor="middle" fill="#404040" font-size="10" font-family="Liberation Serif, serif">3</text>
<line x1="196.4" y1="449.4" x2="196.4" y2="446.9" stroke="#3a3a3a" stroke-width="1.1" fill="none"/>
<line x1="196.4" y1="286.5" x2="196.4" y2="289" stroke="#3a3a3a" stroke-width="1.1" fill="none"/>
<text x="196.4" y="462.8" text-anchor="middle" fill="#404040" font-size="10" font-family="Liberation Serif, serif">4</text>
<line x1="236" y1="449.4" x2="236" y2="446.9" stroke="#3a3a3a" stroke-width="1.1" fill="none"/>
<line x1="236" y1="286.5" x2="236" y2="289" stroke="#3a3a3a" stroke-width="1.1" fill="none"/>
<text x="236" y="462.8" text-anchor="middle" fill="#404040" font-size="10" font-family="Liberation Serif, serif">5</text>
<line x1="38" y1="449.4" x2="40.5" y2="449.4" stroke="#3a3a3a" stroke-width="1.1" fill="none"/>
<line x1="255.3" y1="449.4" x2="252.8" y2="449.4" stroke="#3a3a3a" stroke-width="1.1" fill="none"/>
<text x="34.6" y="453.8" text-anchor="end" fill="#404040" font-size="10" font-family="Liberation Serif, serif">0</text>
<line x1="38" y1="416.78" x2="40.5" y2="416.78" stroke="#3a3a3a" stroke-width="1.1" fill="none"/>
<line x1="255.3" y1="416.78" x2="252.8" y2="416.78" stroke="#3a3a3a" stroke-width="1.1" fill="none"/>
<text x="34.6" y="421.18" text-anchor="end" fill="#404040" font-size="10" font-family="Liberation Serif, serif">5</text>
<line x1="38" y1="384.16" x2="40.5" y2="384.16" stroke="#3a3a3a" stroke-width="1.1" fill="none"/>
<line x1="255.3" y1="384.16" x2="252.8" y2="384.16" stroke="#3a3a3a" stroke-width="1.1" fill="none"/>
<text x="34.6" y="388.56" text-anchor="end" fill="#404040" font-size="10" font-family="Liberation Serif, serif">10</text>
<line x1="38" y1="351.54" x2="40.5" y2="351.54" stroke="#3a3a3a" stroke-width="1.1" fill="none"/>
<line x1="255.3" y1="351.54" x2="252.8" y2="351.54" stroke="#3a3a3a" stroke-width="1.1" fill="none"/>
<text x="34.6" y="355.94" text-anchor="end" fill="#404040" font-size="10" font-family="Liberation Serif, serif">15</text>
<line x1="38" y1="318.92" x2="40.5" y2="318.92" stroke="#3a3a3a" stroke-width="1.1" fill="none"/>
<line x1="255.3" y1="318.92" x2="252.8" y2="318.92" stroke="#3a3a3a" stroke-width="1.1" fill="none"/>
<text x="34.6" y="323.32" text-anchor="end" fill="#404040" font-size="10" font-family="Liberation Serif, serif">20</text>
<line x1="38" y1="286.3" x2="40.5" y2="286.3" stroke="#3a3a3a" stroke-width="1.1" fill="none"/>
<line x1="255.3" y1="286.3" x2="252.8" y2="286.3" stroke="#3a3a3a" stroke-width="1.1" fill="none"/>
<text x="34.6" y="290.7" text-anchor="end" fill="#404040" font-size="10" font-family="Liberation Serif, serif">25</text>
<text x="0" y="280" fill="#1e1e1e" stroke="#1e1e1e" stroke-width="0.16" font-size="12.2" font-family="Liberation Serif, serif">(c)</text>
<text x="136.5" y="472" text-anchor="middle" fill="#2a2a2a" font-size="13" font-family="Liberation Serif, serif"><tspan font-style="italic">t</tspan>/ms</text>
<text transform="translate(15.3,366.3) rotate(-90)" text-anchor="middle" fill="#2a2a2a" font-size="13.6" font-family="Liberation Serif, serif">R/mm</text>
<line x1="104.7" y1="296" x2="124.9" y2="296" stroke="#d42a2a" stroke-width="1.8"/>
<line x1="104.7" y1="309.5" x2="124.9" y2="309.5" stroke="#1c24b4" stroke-width="1.8"/>
<circle cx="114.7" cy="323.1" r="1.85" stroke="#666666" stroke-width="0.8" fill="none"/>
<rect x="113.45" y="334.65" width="3.1" height="3.1" stroke="#666666" stroke-width="0.8" fill="none"/>
<text x="126.2" y="299.8" fill="#1e1e1e" stroke="#1e1e1e" stroke-width="0.06" font-size="12.1" font-family="Liberation Serif, serif">Present theory (bubble 1)</text>
<text x="126.2" y="313.2" fill="#1e1e1e" stroke="#1e1e1e" stroke-width="0.06" font-size="12.1" font-family="Liberation Serif, serif">Present theory (bubble 2)</text>
<text x="126.2" y="326.7" fill="#1e1e1e" stroke="#1e1e1e" stroke-width="0.06" font-size="12.1" font-family="Liberation Serif, serif">Experiment (bubble 1)</text>
<text x="126.2" y="339.9" fill="#1e1e1e" stroke="#1e1e1e" stroke-width="0.06" font-size="12.1" font-family="Liberation Serif, serif">Experiment (bubble 2)</text>
<rect x="300.8" y="286.7" width="216.9" height="162.8" fill="#fff"/>
<polyline points="300.8,297.76 302.62,297.76 304.45,297.77 306.27,297.77 308.09,297.78 309.92,297.79 311.74,297.8 313.56,297.81 315.39,297.82 317.21,297.83 319.03,297.84 320.86,297.86 322.68,297.87 324.5,297.89 326.33,297.91 328.15,297.94 329.97,297.96 331.8,297.99 333.62,298.02 335.44,298.05 337.27,298.08 339.09,298.11 340.91,298.15 342.74,298.18 344.56,298.22 346.38,298.26 348.21,298.3 350.03,298.35 351.85,298.39 353.68,298.44 355.5,298.49 357.32,298.53 359.15,298.58 360.97,298.63 362.79,298.67 364.62,298.72 366.44,298.77 368.26,298.82 370.09,298.87 371.91,298.92 373.73,298.97 375.56,299.03 377.38,299.09 379.2,299.14 381.03,299.21 382.85,299.26 384.67,299.32 386.5,299.38 388.32,299.44 390.14,299.5 391.97,299.58 393.79,299.65 395.61,299.74 397.44,299.84 399.26,299.95 401.08,300.09 402.91,300.3 404.73,300.57 406.55,300.86 407.32,300.99 407.51,301.02 407.71,301.06 407.91,301.09 408.11,301.12 408.31,301.16 408.38,301.17 408.51,301.19 408.71,301.22 408.91,301.25 409.11,301.29 409.3,301.32 409.5,301.35 409.7,301.38 409.9,301.41 410.1,301.44 410.2,301.45 410.3,301.47 410.5,301.5 410.7,301.53 410.9,301.55 411.09,301.58 411.29,301.61 411.49,301.63 411.69,301.65 411.89,301.68 412.02,301.69 412.09,301.7 412.29,301.72 412.49,301.75 412.69,301.77 412.88,301.79 413.08,301.81 413.28,301.84 413.48,301.86 413.68,301.89 413.85,301.91 413.88,301.91 414.08,301.94 414.28,301.96 414.48,301.99 414.67,302.02 414.87,302.05 415.07,302.08 415.27,302.11 415.47,302.15 415.67,302.19 415.67,302.19 415.87,302.22 416.07,302.26 416.27,302.31 416.46,302.35 416.66,302.4 416.86,302.45 417.06,302.51 417.26,302.57 417.46,302.64 417.49,302.66 417.66,302.72 417.86,302.81 418.06,302.91 418.25,303.01 418.45,303.12 418.65,303.24 418.85,303.37 419.05,303.5 419.25,303.65 419.32,303.7 419.45,303.8 419.65,303.96 419.85,304.12 420.05,304.3 420.24,304.49 420.44,304.7 420.64,304.95 420.84,305.24 421.04,305.58 421.14,305.76 421.24,305.96 421.44,306.41 421.64,306.93 421.84,307.66 422.03,308.75 422.23,310.31 422.43,313.54 422.63,318.33 422.83,322.07 422.96,324.07 423.03,324.82 423.23,326.74 423.43,328.29 423.63,329.31 423.82,329.82 424.02,330.22 424.22,330.57 424.42,330.86 424.62,331.1 424.79,331.27 424.82,331.29 425.02,331.45 425.22,331.56 425.42,331.64 425.61,331.72 425.81,331.79 426.01,331.86 426.21,331.92 426.41,331.98 426.61,332.03 426.61,332.03 426.81,332.08 427.01,332.13 427.21,332.17 427.4,332.21 427.6,332.25 427.8,332.28 428,332.31 428.2,332.34 428.4,332.37 428.43,332.37 428.6,332.39 428.8,332.42 429,332.44 429.19,332.46 429.39,332.48 429.59,332.49 429.79,332.51 429.99,332.53 430.19,332.54 430.26,332.55 430.39,332.56 430.59,332.57 430.79,332.59 430.99,332.6 432.08,332.67 433.9,332.76 435.73,332.84 437.55,332.9 439.37,332.97 441.2,333.05 443.02,333.12 444.84,333.2 446.67,333.27 448.49,333.33 450.31,333.4 452.14,333.47 453.96,333.53 455.78,333.6 457.61,333.66 459.43,333.73 461.25,333.79 463.08,333.86 464.9,333.93 466.72,333.99 468.55,334.06 470.37,334.12 470.44,334.12 470.63,334.13 470.83,334.14 471.03,334.15 471.23,334.15 471.43,334.16 471.63,334.17 471.83,334.17 472.03,334.18 472.19,334.19 472.23,334.19 472.43,334.19 472.63,334.2 472.83,334.21 473.03,334.22 473.23,334.22 473.43,334.23 473.63,334.24 473.83,334.24 474.02,334.25 474.03,334.25 474.23,334.26 474.43,334.26 474.63,334.27 474.83,334.28 475.03,334.28 475.23,334.29 475.43,334.3 475.63,334.31 475.83,334.31 475.84,334.31 476.03,334.32 476.23,334.33 476.43,334.33 476.63,334.34 476.83,334.35 477.03,334.35 477.23,334.36 477.43,334.37 477.63,334.37 477.66,334.37 477.83,334.38 478.03,334.39 478.23,334.39 478.42,334.4 478.62,334.41 478.82,334.41 479.02,334.42 479.22,334.43 479.42,334.43 479.49,334.43 479.62,334.44 479.82,334.44 480.02,334.45 480.22,334.46 480.42,334.46 480.62,334.47 480.82,334.47 481.02,334.48 481.22,334.48 481.31,334.48 481.42,334.49 481.62,334.49 481.82,334.5 482.02,334.5 482.22,334.5 482.42,334.51 482.62,334.51 482.82,334.52 483.02,334.52 483.13,334.52 483.22,334.53 483.42,334.53 483.62,334.53 483.82,334.54 484.02,334.54 484.22,334.55 484.42,334.55 484.62,334.55 484.82,334.56 484.96,334.56 485.02,334.56 485.22,334.57 485.42,334.57 485.62,334.57 485.82,334.58 486.02,334.58 486.22,334.59 486.78,334.6 488.6,334.63 490.43,334.67 492.25,334.72 494.07,334.78 495.9,334.86 497.72,334.95 499.54,335.06 500.02,335.1 500.22,335.11 500.42,335.13 500.62,335.16 500.82,335.19 501.03,335.22 501.23,335.26 501.37,335.29 501.43,335.31 501.63,335.36 501.83,335.41 502.03,335.47 502.23,335.54 502.43,335.61 502.63,335.68 502.83,335.76 503.03,335.85 503.19,335.92 503.23,335.94 503.43,336.04 503.63,336.18 503.83,336.37 504.03,336.61 504.23,336.9 504.44,337.24 504.64,337.61 504.84,338.03 505.01,338.41 505.04,338.47 505.24,338.95 505.44,339.44 505.64,340 505.84,340.8 506.04,341.78 506.24,342.82 506.44,343.81 506.64,344.63 506.84,345.19 506.84,345.21 507.04,345.75 507.24,346.23 507.44,346.64 507.65,346.94 507.85,347.13 508.05,347.27 508.25,347.4 508.45,347.52 508.65,347.63 508.66,347.63 508.85,347.73 509.05,347.82 509.25,347.9 509.45,347.97 509.65,348.04 509.85,348.09 510.05,348.13 510.25,348.17 510.45,348.19 510.48,348.2 510.65,348.21 510.85,348.22 511.06,348.23 511.26,348.24 511.46,348.25 511.66,348.26 511.86,348.27 512.31,348.29 514.13,348.35 515.95,348.39 517.78,348.4" stroke="#d42a2a" stroke-width="1.7" fill="none" stroke-linejoin="round"/>
<polyline points="300.8,438.7 302.62,438.7 304.45,438.7 306.27,438.7 308.09,438.69 309.92,438.69 311.74,438.68 313.56,438.67 315.39,438.66 317.21,438.65 319.03,438.64 320.86,438.63 322.68,438.62 324.5,438.6 326.33,438.59 328.15,438.58 329.97,438.56 331.8,438.55 333.62,438.53 335.44,438.51 337.27,438.5 339.09,438.48 340.91,438.47 342.74,438.45 344.56,438.43 346.38,438.41 348.21,438.39 350.03,438.37 351.85,438.34 353.68,438.32 355.5,438.29 357.32,438.26 359.15,438.23 360.97,438.2 362.79,438.17 364.62,438.13 366.44,438.1 368.26,438.06 370.09,438.02 371.91,437.97 373.73,437.93 375.56,437.88 377.38,437.84 379.2,437.79 381.03,437.73 382.85,437.67 384.67,437.61 386.5,437.53 388.32,437.45 390.14,437.34 391.97,437.22 393.79,437.08 395.61,436.91 397.44,436.63 399.26,436.21 401.08,435.68 402.91,435.04 404.73,434.31 406.55,433.5 407.32,433.14 407.51,433.04 407.71,432.94 407.91,432.83 408.11,432.71 408.31,432.6 408.38,432.56 408.51,432.47 408.71,432.34 408.91,432.21 409.11,432.06 409.3,431.91 409.5,431.75 409.7,431.58 409.9,431.4 410.1,431.21 410.2,431.11 410.3,431.01 410.5,430.8 410.7,430.58 410.9,430.34 411.09,430.09 411.29,429.83 411.49,429.54 411.69,429.22 411.89,428.84 412.02,428.54 412.09,428.38 412.29,427.83 412.49,427.16 412.69,426.36 412.88,425.4 413.08,423.94 413.28,420.08 413.48,415.33 413.68,411.46 413.85,408.25 413.88,407.66 414.08,405.21 414.28,404.44 414.48,403.8 414.67,403.27 414.87,402.82 415.07,402.46 415.27,402.18 415.47,401.95 415.67,401.77 415.67,401.77 415.87,401.63 416.07,401.51 416.27,401.41 416.46,401.3 416.66,401.2 416.86,401.11 417.06,401.03 417.26,400.95 417.46,400.87 417.49,400.86 417.66,400.8 417.86,400.73 418.06,400.67 418.25,400.62 418.45,400.56 418.65,400.51 418.85,400.47 419.05,400.43 419.25,400.39 419.32,400.37 419.45,400.35 419.65,400.32 419.85,400.29 420.05,400.26 420.24,400.23 420.44,400.21 420.64,400.18 420.84,400.16 421.04,400.14 421.14,400.13 421.24,400.12 421.44,400.1 421.64,400.08 421.84,400.06 422.03,400.04 422.23,400.02 422.43,400 422.63,399.98 422.83,399.96 422.96,399.95 423.03,399.94 423.23,399.93 423.43,399.91 423.63,399.89 423.82,399.88 424.02,399.86 424.22,399.85 424.42,399.83 424.62,399.82 424.79,399.8 424.82,399.8 425.02,399.79 425.22,399.77 425.42,399.76 425.61,399.74 425.81,399.73 426.01,399.72 426.21,399.71 426.41,399.69 426.61,399.68 426.61,399.68 426.81,399.67 427.01,399.66 427.21,399.65 427.4,399.64 427.6,399.62 427.8,399.61 428,399.6 428.2,399.59 428.4,399.58 428.43,399.58 428.6,399.57 428.8,399.56 429,399.55 429.19,399.54 429.39,399.54 429.59,399.53 429.79,399.52 429.99,399.51 430.19,399.5 430.26,399.5 430.39,399.49 430.59,399.48 430.79,399.47 430.99,399.47 432.08,399.42 433.9,399.36 435.73,399.29 437.55,399.23 439.37,399.19 441.2,399.15 443.02,399.11 444.84,399.08 446.67,399.04 448.49,399.01 450.31,398.96 452.14,398.91 453.96,398.85 455.78,398.76 457.61,398.65 459.43,398.5 461.25,398.31 463.08,398.09 464.9,397.84 466.72,397.56 468.55,397.24 470.37,396.89 470.44,396.88 470.63,396.84 470.83,396.8 471.03,396.76 471.23,396.72 471.43,396.68 471.63,396.64 471.83,396.6 472.03,396.55 472.19,396.51 472.23,396.5 472.43,396.45 472.63,396.4 472.83,396.35 473.03,396.29 473.23,396.23 473.43,396.16 473.63,396.1 473.83,396.02 474.02,395.95 474.03,395.95 474.23,395.86 474.43,395.78 474.63,395.68 474.83,395.59 475.03,395.48 475.23,395.37 475.43,395.26 475.63,395.13 475.83,395 475.84,394.99 476.03,394.82 476.23,394.58 476.43,394.27 476.63,393.91 476.83,393.49 477.03,393.02 477.23,392.51 477.43,391.88 477.63,390.92 477.66,390.72 477.83,389.75 478.03,388.51 478.23,387.35 478.42,386.41 478.62,385.73 478.82,385.09 479.02,384.51 479.22,384.02 479.42,383.66 479.49,383.59 479.62,383.47 479.82,383.35 480.02,383.24 480.22,383.15 480.42,383.07 480.62,383 480.82,382.94 481.02,382.89 481.22,382.84 481.31,382.82 481.42,382.8 481.62,382.76 481.82,382.72 482.02,382.68 482.22,382.64 482.42,382.61 482.62,382.57 482.82,382.53 483.02,382.5 483.13,382.48 483.22,382.46 483.42,382.43 483.62,382.39 483.82,382.36 484.02,382.33 484.22,382.3 484.42,382.26 484.62,382.23 484.82,382.2 484.96,382.18 485.02,382.17 485.22,382.14 485.42,382.11 485.62,382.09 485.82,382.06 486.02,382.03 486.22,382 486.78,381.93 488.6,381.72 490.43,381.54 492.25,381.39 494.07,381.26 495.9,381.16 497.72,381.05 499.54,380.95 500.02,380.93 500.22,380.91 500.42,380.9 500.62,380.89 500.82,380.88 501.03,380.87 501.23,380.86 501.37,380.85 501.43,380.85 501.63,380.84 501.83,380.83 502.03,380.82 502.23,380.81 502.43,380.8 502.63,380.79 502.83,380.78 503.03,380.77 503.19,380.76 503.23,380.76 503.43,380.75 503.63,380.74 503.83,380.73 504.03,380.72 504.23,380.71 504.44,380.71 504.64,380.7 504.84,380.69 505.01,380.68 505.04,380.68 505.24,380.67 505.44,380.66 505.64,380.65 505.84,380.64 506.04,380.64 506.24,380.63 506.44,380.62 506.64,380.61 506.84,380.6 506.84,380.6 507.04,380.6 507.24,380.59 507.44,380.58 507.65,380.57 507.85,380.56 508.05,380.56 508.25,380.55 508.45,380.54 508.65,380.54 508.66,380.54 508.85,380.53 509.05,380.52 509.25,380.52 509.45,380.51 509.65,380.5 509.85,380.5 510.05,380.49 510.25,380.48 510.45,380.48 510.48,380.48 510.65,380.47 510.85,380.47 511.06,380.46 511.26,380.46 511.46,380.45 511.66,380.45 511.86,380.44 512.31,380.43 514.13,380.4 515.95,380.37 517.78,380.37" stroke="#1c24b4" stroke-width="1.7" fill="none" stroke-linejoin="round"/>
<circle cx="320.8" cy="294.2" r="1.85" stroke="#666666" stroke-width="0.8" fill="none"/>
<circle cx="329.5" cy="294.2" r="1.85" stroke="#666666" stroke-width="0.8" fill="none"/>
<circle cx="335.8" cy="294.4" r="1.85" stroke="#666666" stroke-width="0.8" fill="none"/>
<circle cx="343.8" cy="294.2" r="1.85" stroke="#666666" stroke-width="0.8" fill="none"/>
<circle cx="351.2" cy="294.4" r="1.85" stroke="#666666" stroke-width="0.8" fill="none"/>
<circle cx="357.7" cy="294.4" r="1.85" stroke="#666666" stroke-width="0.8" fill="none"/>
<circle cx="363.5" cy="294.6" r="1.85" stroke="#666666" stroke-width="0.8" fill="none"/>
<circle cx="369.2" cy="294.6" r="1.85" stroke="#666666" stroke-width="0.8" fill="none"/>
<circle cx="375" cy="295.4" r="1.85" stroke="#666666" stroke-width="0.8" fill="none"/>
<circle cx="383.5" cy="296.5" r="1.85" stroke="#666666" stroke-width="0.8" fill="none"/>
<circle cx="392.3" cy="296.8" r="1.85" stroke="#666666" stroke-width="0.8" fill="none"/>
<circle cx="399.2" cy="297" r="1.85" stroke="#666666" stroke-width="0.8" fill="none"/>
<circle cx="406.5" cy="297.4" r="1.85" stroke="#666666" stroke-width="0.8" fill="none"/>
<circle cx="413.8" cy="297.7" r="1.85" stroke="#666666" stroke-width="0.8" fill="none"/>
<circle cx="420.8" cy="302.3" r="1.85" stroke="#666666" stroke-width="0.8" fill="none"/>
<circle cx="421.2" cy="308" r="1.85" stroke="#666666" stroke-width="0.8" fill="none"/>
<circle cx="423" cy="321.9" r="1.85" stroke="#666666" stroke-width="0.8" fill="none"/>
<circle cx="426.5" cy="325.4" r="1.85" stroke="#666666" stroke-width="0.8" fill="none"/>
<circle cx="432.3" cy="327.7" r="1.85" stroke="#666666" stroke-width="0.8" fill="none"/>
<circle cx="438.1" cy="329.5" r="1.85" stroke="#666666" stroke-width="0.8" fill="none"/>
<circle cx="442.7" cy="329.5" r="1.85" stroke="#666666" stroke-width="0.8" fill="none"/>
<circle cx="450.8" cy="331.2" r="1.85" stroke="#666666" stroke-width="0.8" fill="none"/>
<circle cx="457.7" cy="333.5" r="1.85" stroke="#666666" stroke-width="0.8" fill="none"/>
<circle cx="463.5" cy="335.8" r="1.85" stroke="#666666" stroke-width="0.8" fill="none"/>
<circle cx="469.2" cy="334.6" r="1.85" stroke="#666666" stroke-width="0.8" fill="none"/>
<circle cx="474.3" cy="335.3" r="1.85" stroke="#666666" stroke-width="0.8" fill="none"/>
<circle cx="479.6" cy="334.6" r="1.85" stroke="#666666" stroke-width="0.8" fill="none"/>
<circle cx="483.5" cy="333.5" r="1.85" stroke="#666666" stroke-width="0.8" fill="none"/>
<circle cx="488.9" cy="336.9" r="1.85" stroke="#666666" stroke-width="0.8" fill="none"/>
<circle cx="493.5" cy="338.1" r="1.85" stroke="#666666" stroke-width="0.8" fill="none"/>
<circle cx="496.5" cy="339.2" r="1.85" stroke="#666666" stroke-width="0.8" fill="none"/>
<circle cx="502.7" cy="348.5" r="1.85" stroke="#666666" stroke-width="0.8" fill="none"/>
<circle cx="509.6" cy="350.8" r="1.85" stroke="#666666" stroke-width="0.8" fill="none"/>
<rect x="317.35" y="439.65" width="3.1" height="3.1" stroke="#666666" stroke-width="0.8" fill="none"/>
<rect x="326.65" y="439.85" width="3.1" height="3.1" stroke="#666666" stroke-width="0.8" fill="none"/>
<rect x="333.05" y="439.85" width="3.1" height="3.1" stroke="#666666" stroke-width="0.8" fill="none"/>
<rect x="340.45" y="439.65" width="3.1" height="3.1" stroke="#666666" stroke-width="0.8" fill="none"/>
<rect x="347.35" y="439.65" width="3.1" height="3.1" stroke="#666666" stroke-width="0.8" fill="none"/>
<rect x="360.25" y="439.65" width="3.1" height="3.1" stroke="#666666" stroke-width="0.8" fill="none"/>
<rect x="366.55" y="439.45" width="3.1" height="3.1" stroke="#666666" stroke-width="0.8" fill="none"/>
<rect x="372.25" y="438.65" width="3.1" height="3.1" stroke="#666666" stroke-width="0.8" fill="none"/>
<rect x="376.45" y="438.45" width="3.1" height="3.1" stroke="#666666" stroke-width="0.8" fill="none"/>
<rect x="386.15" y="437.95" width="3.1" height="3.1" stroke="#666666" stroke-width="0.8" fill="none"/>
<rect x="395.35" y="435.65" width="3.1" height="3.1" stroke="#666666" stroke-width="0.8" fill="none"/>
<rect x="403.45" y="433.15" width="3.1" height="3.1" stroke="#666666" stroke-width="0.8" fill="none"/>
<rect x="408.75" y="427.65" width="3.1" height="3.1" stroke="#666666" stroke-width="0.8" fill="none"/>
<rect x="409.95" y="415.75" width="3.1" height="3.1" stroke="#666666" stroke-width="0.8" fill="none"/>
<rect x="414.15" y="405.35" width="3.1" height="3.1" stroke="#666666" stroke-width="0.8" fill="none"/>
<rect x="415.75" y="401.95" width="3.1" height="3.1" stroke="#666666" stroke-width="0.8" fill="none"/>
<rect x="422.65" y="397.25" width="3.1" height="3.1" stroke="#666666" stroke-width="0.8" fill="none"/>
<rect x="428.45" y="395.65" width="3.1" height="3.1" stroke="#666666" stroke-width="0.8" fill="none"/>
<rect x="434.25" y="394.95" width="3.1" height="3.1" stroke="#666666" stroke-width="0.8" fill="none"/>
<rect x="439.95" y="393.35" width="3.1" height="3.1" stroke="#666666" stroke-width="0.8" fill="none"/>
<rect x="447.35" y="389.65" width="3.1" height="3.1" stroke="#666666" stroke-width="0.8" fill="none"/>
<rect x="453.85" y="388.05" width="3.1" height="3.1" stroke="#666666" stroke-width="0.8" fill="none"/>
<rect x="460.25" y="388.05" width="3.1" height="3.1" stroke="#666666" stroke-width="0.8" fill="none"/>
<rect x="465.85" y="388.05" width="3.1" height="3.1" stroke="#666666" stroke-width="0.8" fill="none"/>
<rect x="470.45" y="386.45" width="3.1" height="3.1" stroke="#666666" stroke-width="0.8" fill="none"/>
<rect x="476.45" y="379.95" width="3.1" height="3.1" stroke="#666666" stroke-width="0.8" fill="none"/>
<rect x="480.35" y="379.55" width="3.1" height="3.1" stroke="#666666" stroke-width="0.8" fill="none"/>
<rect x="484.95" y="374.95" width="3.1" height="3.1" stroke="#666666" stroke-width="0.8" fill="none"/>
<rect x="300.8" y="286.7" width="216.9" height="162.8" stroke="#3a3a3a" stroke-width="1.1" fill="none"/>
<line x1="300.8" y1="449.5" x2="300.8" y2="447" stroke="#3a3a3a" stroke-width="1.1" fill="none"/>
<line x1="300.8" y1="286.7" x2="300.8" y2="289.2" stroke="#3a3a3a" stroke-width="1.1" fill="none"/>
<text x="300.8" y="462.8" text-anchor="middle" fill="#404040" font-size="10" font-family="Liberation Serif, serif">0</text>
<line x1="340.25" y1="449.5" x2="340.25" y2="447" stroke="#3a3a3a" stroke-width="1.1" fill="none"/>
<line x1="340.25" y1="286.7" x2="340.25" y2="289.2" stroke="#3a3a3a" stroke-width="1.1" fill="none"/>
<text x="340.25" y="462.8" text-anchor="middle" fill="#404040" font-size="10" font-family="Liberation Serif, serif">1</text>
<line x1="379.7" y1="449.5" x2="379.7" y2="447" stroke="#3a3a3a" stroke-width="1.1" fill="none"/>
<line x1="379.7" y1="286.7" x2="379.7" y2="289.2" stroke="#3a3a3a" stroke-width="1.1" fill="none"/>
<text x="379.7" y="462.8" text-anchor="middle" fill="#404040" font-size="10" font-family="Liberation Serif, serif">2</text>
<line x1="419.15" y1="449.5" x2="419.15" y2="447" stroke="#3a3a3a" stroke-width="1.1" fill="none"/>
<line x1="419.15" y1="286.7" x2="419.15" y2="289.2" stroke="#3a3a3a" stroke-width="1.1" fill="none"/>
<text x="419.15" y="462.8" text-anchor="middle" fill="#404040" font-size="10" font-family="Liberation Serif, serif">3</text>
<line x1="458.6" y1="449.5" x2="458.6" y2="447" stroke="#3a3a3a" stroke-width="1.1" fill="none"/>
<line x1="458.6" y1="286.7" x2="458.6" y2="289.2" stroke="#3a3a3a" stroke-width="1.1" fill="none"/>
<text x="458.6" y="462.8" text-anchor="middle" fill="#404040" font-size="10" font-family="Liberation Serif, serif">4</text>
<line x1="498.05" y1="449.5" x2="498.05" y2="447" stroke="#3a3a3a" stroke-width="1.1" fill="none"/>
<line x1="498.05" y1="286.7" x2="498.05" y2="289.2" stroke="#3a3a3a" stroke-width="1.1" fill="none"/>
<text x="498.05" y="462.8" text-anchor="middle" fill="#404040" font-size="10" font-family="Liberation Serif, serif">5</text>
<line x1="300.8" y1="441.5" x2="303.3" y2="441.5" stroke="#3a3a3a" stroke-width="1.1" fill="none"/>
<line x1="517.7" y1="441.5" x2="515.2" y2="441.5" stroke="#3a3a3a" stroke-width="1.1" fill="none"/>
<text x="297.4" y="445.61" text-anchor="end" fill="#404040" font-size="10" font-family="Liberation Serif, serif">-15</text>
<line x1="300.8" y1="418.17" x2="303.3" y2="418.17" stroke="#3a3a3a" stroke-width="1.1" fill="none"/>
<line x1="517.7" y1="418.17" x2="515.2" y2="418.17" stroke="#3a3a3a" stroke-width="1.1" fill="none"/>
<text x="297.4" y="422.27" text-anchor="end" fill="#404040" font-size="10" font-family="Liberation Serif, serif">-10</text>
<line x1="300.8" y1="394.83" x2="303.3" y2="394.83" stroke="#3a3a3a" stroke-width="1.1" fill="none"/>
<line x1="517.7" y1="394.83" x2="515.2" y2="394.83" stroke="#3a3a3a" stroke-width="1.1" fill="none"/>
<text x="297.4" y="398.94" text-anchor="end" fill="#404040" font-size="10" font-family="Liberation Serif, serif">-5</text>
<line x1="300.8" y1="371.5" x2="303.3" y2="371.5" stroke="#3a3a3a" stroke-width="1.1" fill="none"/>
<line x1="517.7" y1="371.5" x2="515.2" y2="371.5" stroke="#3a3a3a" stroke-width="1.1" fill="none"/>
<text x="297.4" y="375.6" text-anchor="end" fill="#404040" font-size="10" font-family="Liberation Serif, serif">0</text>
<line x1="300.8" y1="348.17" x2="303.3" y2="348.17" stroke="#3a3a3a" stroke-width="1.1" fill="none"/>
<line x1="517.7" y1="348.17" x2="515.2" y2="348.17" stroke="#3a3a3a" stroke-width="1.1" fill="none"/>
<text x="297.4" y="352.27" text-anchor="end" fill="#404040" font-size="10" font-family="Liberation Serif, serif">5</text>
<line x1="300.8" y1="324.83" x2="303.3" y2="324.83" stroke="#3a3a3a" stroke-width="1.1" fill="none"/>
<line x1="517.7" y1="324.83" x2="515.2" y2="324.83" stroke="#3a3a3a" stroke-width="1.1" fill="none"/>
<text x="297.4" y="328.93" text-anchor="end" fill="#404040" font-size="10" font-family="Liberation Serif, serif">10</text>
<line x1="300.8" y1="301.5" x2="303.3" y2="301.5" stroke="#3a3a3a" stroke-width="1.1" fill="none"/>
<line x1="517.7" y1="301.5" x2="515.2" y2="301.5" stroke="#3a3a3a" stroke-width="1.1" fill="none"/>
<text x="297.4" y="305.6" text-anchor="end" fill="#404040" font-size="10" font-family="Liberation Serif, serif">15</text>
<text x="283" y="279.9" fill="#1e1e1e" stroke="#1e1e1e" stroke-width="0.16" font-size="12.2" font-family="Liberation Serif, serif">(d)</text>
<text x="404.3" y="471.5" text-anchor="middle" fill="#2a2a2a" font-size="13" font-family="Liberation Serif, serif"><tspan font-style="italic">t</tspan>/ms</text>
<text transform="translate(280.5,370) rotate(-90)" text-anchor="middle" fill="#2a2a2a" font-size="13" font-family="Liberation Serif, serif">Migration/mm</text>
<line x1="307.7" y1="343.3" x2="327.7" y2="343.3" stroke="#d42a2a" stroke-width="1.7"/>
<line x1="307.7" y1="356.6" x2="327.7" y2="356.6" stroke="#1c24b4" stroke-width="1.7"/>
<circle cx="317.3" cy="370.1" r="1.85" stroke="#666666" stroke-width="0.8" fill="none"/>
<rect x="315.9" y="382.1" width="3.1" height="3.1" stroke="#666666" stroke-width="0.8" fill="none"/>
<text x="328.9" y="346.9" fill="#1e1e1e" stroke="#1e1e1e" stroke-width="0.06" font-size="12.1" font-family="Liberation Serif, serif">Present theory (bubble 1)</text>
<text x="328.9" y="360.2" fill="#1e1e1e" stroke="#1e1e1e" stroke-width="0.06" font-size="12.1" font-family="Liberation Serif, serif">Present theory (bubble 2)</text>
<text x="328.9" y="373.4" fill="#1e1e1e" stroke="#1e1e1e" stroke-width="0.06" font-size="12.1" font-family="Liberation Serif, serif">Experiment (bubble 1)</text>
<text x="328.9" y="386.6" fill="#1e1e1e" stroke="#1e1e1e" stroke-width="0.06" font-size="12.1" font-family="Liberation Serif, serif">Experiment (bubble 2)</text>
</svg>
</body></html>
